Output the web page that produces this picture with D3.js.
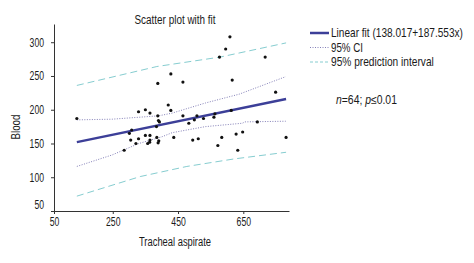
<!DOCTYPE html>
<html>
<head>
<meta charset="utf-8">
<script src="https://cdn.jsdelivr.net/npm/d3@7"></script>
<style>
  body { margin: 0; background: #fff; }
  svg text { font-family: "Liberation Sans", Arial, sans-serif; fill: #1a1a1a; }
</style>
</head>
<body>
<div id="chart"></div>
<script>
// data
const aspirate = [140, 388, 428, 465, 609, 596, 577, 616, 717, 749, 781, 329, 350, 364, 388, 420, 428, 390, 393, 384,
  465, 308, 301, 305, 285, 321, 329, 350, 364, 364, 357, 363, 385, 391, 389, 437, 483, 500, 508, 528,
  560, 563, 613, 495, 512, 572, 584, 628, 648, 633, 693];
const blood = [187, 239, 253, 241, 308, 290, 278, 244, 278, 226, 159, 197, 200, 195, 191, 207, 199, 184, 182, 175,
  191, 170, 165, 155, 140, 150, 157, 162, 162, 155, 150, 152, 159, 154, 151, 159, 180, 185, 191, 187,
  189, 194, 199, 155, 157, 147, 159, 164, 167, 140, 182];

const fitX = [140, 781];
const fitY = [152, 216];

const ciX = [140, 248, 391, 432, 534, 637, 780];
const ciUpper = [185, 186, 191, 195, 210, 223, 249];
const ciLowX = [140, 248, 330, 401, 432, 534, 647, 655, 780];
const ciLower = [116, 133, 150, 160, 166, 175, 180, 182, 183];

const piX = [140, 385, 579, 781];
const piUpper = [236, 264, 278, 299];
const piLowX = [140, 334, 477, 620, 781];
const piLower = [72, 101, 116, 127, 137];

const xTicks = [50, 250, 450, 650];
const yTicks = [50, 100, 150, 200, 250, 300];
const legendItems = ["Linear fit (138.017+187.553x)", "95% CI", "95% prediction interval"];

const W = 474, H = 263;
const margin = {top: 24, left: 54, bottom: 52, right: 185};
const width = W - margin.left - margin.right;
const height = H - margin.top - margin.bottom;

// squeeze text to the narrow face used in the original
function condense(sel, k) {
  sel.each(function() {
    const w = this.getComputedTextLength();
    d3.select(this).attr("textLength", w * k).attr("lengthAdjust", "spacingAndGlyphs");
  });
}
function fitTo(sel, w) {
  sel.attr("textLength", w).attr("lengthAdjust", "spacingAndGlyphs");
}
// scale a text placed at the origin of its own group
function squeezeTo(sel, w) {
  sel.each(function() {
    const n = this.getComputedTextLength();
    d3.select(this).attr("transform", `scale(${w / n}, 1)`);
  });
}

const svg = d3.select("#chart").append("svg")
  .attr("width", W).attr("height", H);
const g = svg.append("g")
  .attr("transform", `translate(${margin.left}, ${margin.top})`);

const x = d3.scaleLinear().domain([70, 790]).range([0, width]).clamp(true);
const y = d3.scaleLinear().domain([50, 327]).range([height, 0]);

// axes
const xAxis = g.append("g")
  .attr("transform", `translate(0, ${height})`)
  .call(d3.axisBottom(x).tickValues(xTicks).tickSize(3).tickPadding(3).tickSizeOuter(0));
const yAxis = g.append("g")
  .call(d3.axisLeft(y).tickValues(yTicks).tickSize(3).tickPadding(7).tickSizeOuter(0));
[xAxis, yAxis].forEach(a => {
  a.select(".domain").attr("stroke", "#333");
  a.selectAll(".tick line").attr("stroke", "#333");
  a.selectAll("text").style("font-size", "12px").style("font-family", null).attr("fill", "#1a1a1a");
  condense(a.selectAll("text"), 0.72);
});
// bottom label on y sits just above the x axis
yAxis.selectAll(".tick text").filter(d => d === 50).attr("dy", "-0.25em");

const line = d3.line().x(d => x(d[0])).y(d => y(d[1]));

// prediction interval
g.append("path").datum(d3.zip(piX, piUpper))
  .attr("d", line).attr("fill", "none").attr("stroke", "#86cdd0")
  .attr("stroke-width", 1).attr("stroke-dasharray", "7,4");
g.append("path").datum(d3.zip(piLowX, piLower))
  .attr("d", line).attr("fill", "none").attr("stroke", "#86cdd0")
  .attr("stroke-width", 1).attr("stroke-dasharray", "7,4");

// confidence interval
g.append("path").datum(d3.zip(ciX, ciUpper))
  .attr("d", line).attr("fill", "none").attr("stroke", "#8480b8")
  .attr("stroke-width", 1).attr("stroke-dasharray", "1,1.5");
g.append("path").datum(d3.zip(ciLowX, ciLower))
  .attr("d", line).attr("fill", "none").attr("stroke", "#8480b8")
  .attr("stroke-width", 1).attr("stroke-dasharray", "1,1.5");

// fit
g.append("path").datum(d3.zip(fitX, fitY))
  .attr("d", line).attr("fill", "none").attr("stroke", "#3c3f98")
  .attr("stroke-width", 2.5);

// points
g.selectAll(".pt")
  .data(d3.zip(aspirate, blood))
  .enter()
  .append("circle")
  .attr("class", "pt")
  .attr("cx", d => x(d[0]))
  .attr("cy", d => y(d[1]))
  .attr("r", 1.6)
  .attr("fill", "#111");

// titles
svg.append("text")
  .attr("x", 175).attr("y", 24)
  .attr("text-anchor", "middle")
  .style("font-size", "12px")
  .text("Scatter plot with fit")
  .call(fitTo, 81);
svg.append("text")
  .attr("x", 175).attr("y", 246)
  .attr("text-anchor", "middle")
  .style("font-size", "12px")
  .text("Tracheal aspirate")
  .call(fitTo, 72);
svg.append("text")
  .attr("transform", "translate(20, 127) rotate(-90)")
  .attr("text-anchor", "middle")
  .style("font-size", "12px")
  .text("Blood")
  .call(fitTo, 25);

// legend
const legStyles = [
  {stroke: "#3c3f98", w: 2.5, dash: null, tw: 132},
  {stroke: "#8480b8", w: 1, dash: "1,1.5", tw: 32},
  {stroke: "#86cdd0", w: 1, dash: "3,2", tw: 103}
];
const leg = svg.selectAll(".leg")
  .data(legendItems)
  .enter()
  .append("g")
  .attr("class", "leg")
  .attr("transform", (d, i) => `translate(310, ${33 + i * 14.5})`);
leg.append("line")
  .attr("x1", 0).attr("x2", 19)
  .attr("stroke", (d, i) => legStyles[i].stroke)
  .attr("stroke-width", (d, i) => legStyles[i].w)
  .attr("stroke-dasharray", (d, i) => legStyles[i].dash);
leg.append("g")
  .attr("transform", "translate(21, 0)")
  .append("text")
  .attr("dy", "0.35em")
  .style("font-size", "12px")
  .text(d => d)
  .each(function(d, i) { squeezeTo(d3.select(this), legStyles[i].tw); });

const note = svg.append("g")
  .attr("transform", "translate(336, 104)")
  .append("text")
  .style("font-size", "12px");
note.append("tspan").style("font-style", "italic").text("n");
note.append("tspan").text("=64; ");
note.append("tspan").style("font-style", "italic").text("p");
note.append("tspan").text("≤0.01");
squeezeTo(note, 61);
</script>
</body>
</html>
